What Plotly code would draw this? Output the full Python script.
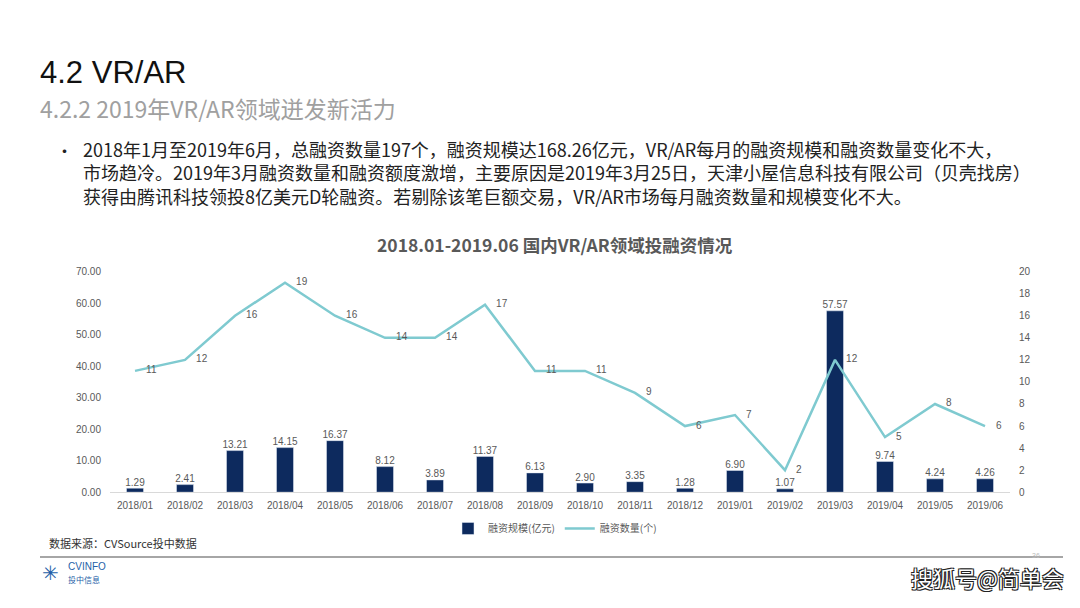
import plotly.graph_objects as go

W, H = 1080, 608

months = ["2018/01", "2018/02", "2018/03", "2018/04", "2018/05", "2018/06", "2018/07", "2018/08", "2018/09",
          "2018/10", "2018/11", "2018/12", "2019/01", "2019/02", "2019/03", "2019/04", "2019/05", "2019/06"]
amount = [1.29, 2.41, 13.21, 14.15, 16.37, 8.12, 3.89, 11.37, 6.13, 2.90, 3.35, 1.28, 6.90, 1.07, 57.57, 9.74, 4.24, 4.26]
count = [11, 12, 16, 19, 16, 14, 14, 17, 11, 11, 9, 6, 7, 2, 12, 5, 8, 6]

left_ticks = [0, 10, 20, 30, 40, 50, 60, 70]
right_ticks = [0, 2, 4, 6, 8, 10, 12, 14, 16, 18, 20]

BAR = "#0d2a5e"
LINE = "#7fcad0"
GRAY = "#595959"
CJK = "Noto Sans CJK SC"
LAT = "Liberation Sans"

def px(x):
    return x / W

def py(y):
    return 1 - y / H

fig = go.Figure()
fig.add_trace(go.Bar(
    x=months, y=amount, name="融资规模(亿元)", marker_color=BAR, width=0.34,
))
fig.add_trace(go.Scatter(
    x=months, y=amount, mode="text", text=[f"{v:.2f}" for v in amount], textposition="top center",
    cliponaxis=False, showlegend=False, hoverinfo="skip",
    textfont=dict(size=10, color=GRAY, family=LAT),
))
fig.add_trace(go.Scatter(
    x=months, y=count, name="融资数量(个)", yaxis="y2", mode="lines+text",
    line=dict(color=LINE, width=2.5), text=["    " + str(v) for v in count],
    textposition="middle right", cliponaxis=False,
    textfont=dict(size=10, color=GRAY, family=LAT),
))

fig.update_layout(
    width=W, height=H, margin=dict(l=0, r=0, t=0, b=0),
    paper_bgcolor="white", plot_bgcolor="white",
    showlegend=True,
    legend=dict(orientation="h", x=px(555), y=py(533), xanchor="center", yanchor="middle",
                font=dict(size=10, color=GRAY, family=CJK), itemwidth=30, tracegroupgap=0),
    xaxis=dict(domain=[px(110), px(1010)], type="category", range=[-0.5, 17.5], showgrid=False, showline=True,
               linecolor="#d9d9d9", linewidth=1, ticks="", tickfont=dict(size=10, color=GRAY, family=LAT),
               ticklabelstandoff=4),
    yaxis=dict(domain=[1 - 496 / H, 1 - 271 / H], range=[0, 70], tickvals=left_ticks,
               ticktext=[f"{v:.2f}" for v in left_ticks], showgrid=False, zeroline=False,
               tickfont=dict(size=10, color=GRAY, family=LAT), ticklabelstandoff=8),
    yaxis2=dict(overlaying="y", side="right", range=[0, 20], tickvals=right_ticks, showgrid=False,
                zeroline=False, tickfont=dict(size=10, color=GRAY, family=LAT), ticklabelstandoff=8),
    bargap=0.66,
)

ann = []
ann.append(dict(x=px(38), y=py(68), text="4.2 VR/AR", xanchor="left", yanchor="middle",
                font=dict(size=31, color="#111111", family=LAT)))
ann.append(dict(x=px(38), y=py(104), text="4.2.2 2019年VR/AR领域迸发新活力", xanchor="left", yanchor="middle",
                font=dict(size=23, color="#a0a0a0", family=CJK)))
ann.append(dict(x=px(54), y=py(147), text="•", xanchor="left", yanchor="middle",
                font=dict(size=17, color="#222222", family=CJK)))
lines = [
    "2018年1月至2019年6月，总融资数量197个，融资规模达168.26亿元，VR/AR每月的融资规模和融资数量变化不大，",
    "市场趋冷。2019年3月融资数量和融资额度激增，主要原因是2019年3月25日，天津小屋信息科技有限公司（贝壳找房）",
    "获得由腾讯科技领投8亿美元D轮融资。若剔除该笔巨额交易，VR/AR市场每月融资数量和规模变化不大。",
]
ann.append(dict(x=px(81), y=py(170), text="<br>".join(lines), xanchor="left", yanchor="middle", align="left",
                font=dict(size=18, color="#222222", family=CJK)))
ann.append(dict(x=px(555), y=py(243), text="<b>2018.01-2019.06 国内VR/AR领域投融资情况</b>", xanchor="center",
                yanchor="middle", font=dict(size=17.5, color=GRAY, family=CJK)))
ann.append(dict(x=px(47), y=py(548), text="数据来源：CVSource投中数据", xanchor="left", yanchor="middle",
                font=dict(size=11, color="#333333", family=CJK)))
ann.append(dict(x=px(40), y=py(578), text="<b>✳</b>", xanchor="left", yanchor="middle",
                font=dict(size=20, color="#1f5fa8", family="DejaVu Sans")))
ann.append(dict(x=px(66), y=py(572), text="CVINFO", xanchor="left", yanchor="middle",
                font=dict(size=10, color="#1f5fa8", family=LAT)))
ann.append(dict(x=px(66), y=py(585), text="投中信息", xanchor="left", yanchor="middle",
                font=dict(size=8, color="#1f5fa8", family=CJK)))
ann.append(dict(x=px(1030), y=py(561), text="36", xanchor="left", yanchor="middle",
                font=dict(size=7, color="#bbbbbb", family=LAT)))
ann.append(dict(x=px(1066), y=py(582), text="搜狐号@简单会", xanchor="right", yanchor="middle",
                font=dict(size=22, color="white", family=CJK,
                          shadow="1px 1px 0 #222, -1px -1px 0 #222, 1px -1px 0 #222, -1px 1px 0 #222")))
for a in ann:
    a.update(xref="paper", yref="paper", showarrow=False)
fig.update_layout(annotations=ann)

fig.add_shape(type="line", xref="paper", yref="paper", x0=px(40), x1=px(1063), y0=py(562), y1=py(562),
              line=dict(color="#a6a6a6", width=2))

fig.write_html("out.html")
